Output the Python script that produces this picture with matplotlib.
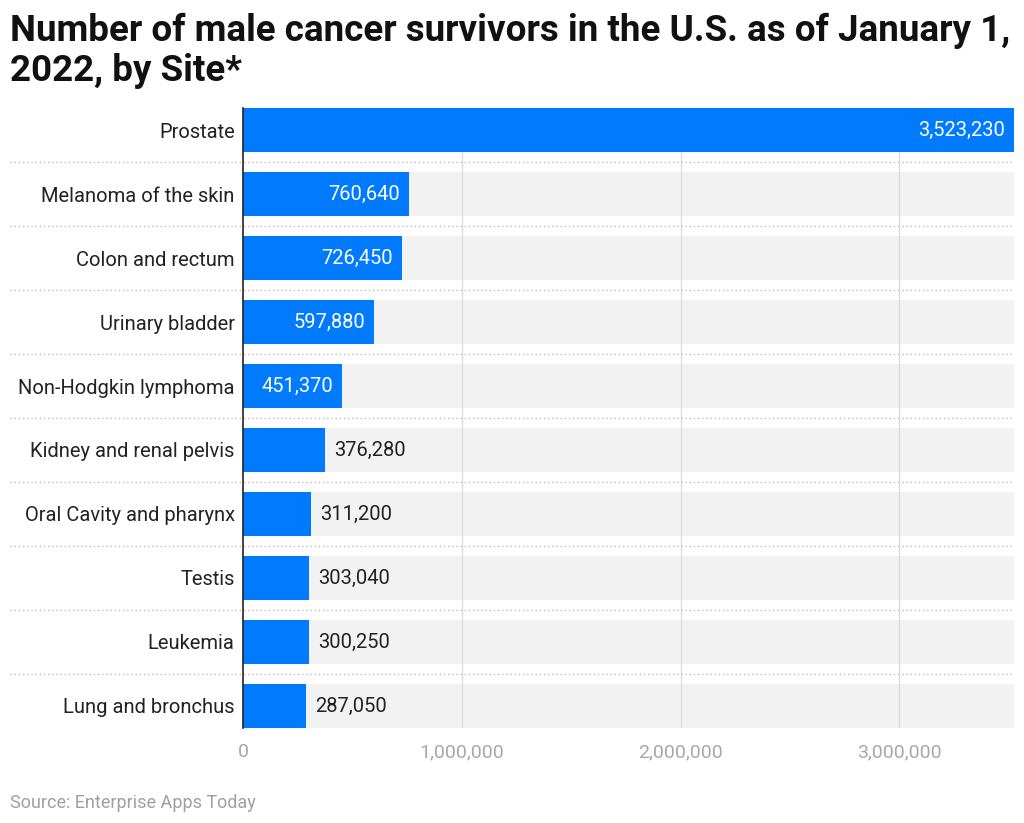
import matplotlib
matplotlib.use("Agg")
import matplotlib.pyplot as plt
import matplotlib.transforms as mtransforms
from matplotlib.ticker import FuncFormatter

plt.rcParams['font.family'] = ['Roboto', 'DejaVu Sans']

categories = ["Prostate", "Melanoma of the skin", "Colon and rectum", "Urinary bladder",
              "Non-Hodgkin lymphoma", "Kidney and renal pelvis", "Oral Cavity and pharynx",
              "Testis", "Leukemia", "Lung and bronchus"]
values = [3523230, 760640, 726450, 597880, 451370, 376280, 311200, 303040, 300250, 287050]
inside_count = 5
xticks = [0, 1000000, 2000000, 3000000]

BLUE = "#007BFF"
BAND = "#F2F2F2"

fig = plt.figure(figsize=(10.24, 8.23), dpi=100)
ax = fig.add_axes([243/1024, 1-728/823, (1014-243)/1024, (728-108)/823])

xmax = max(values)
n = len(categories)
ypos = list(range(n))
h = 0.69

ax.barh(ypos, [xmax]*n, height=h, color=BAND, zorder=0)
for x in xticks[1:]:
    ax.axvline(x, color="#DCDCDC", lw=1, zorder=1)
ax.barh(ypos, values, height=h, color=BLUE, zorder=2)

ax.set_xlim(0, xmax)
ax.set_ylim(n - 1 + 0.345, -0.345)

trans = mtransforms.blended_transform_factory(ax.transAxes, ax.transData)
for i in range(n - 1):
    ax.plot([-233/771, 1], [i + 0.5, i + 0.5], transform=trans, clip_on=False,
            color="#BBBBBB", lw=1, ls=(0, (1, 2)), zorder=3)

off = 9 / 219 * 1000000
for i, v in enumerate(values):
    label = f"{v:,}"
    if i < inside_count:
        ax.text(v - off, i, label, ha="right", va="center", color="white",
                fontsize=14.5, zorder=4)
    else:
        ax.text(v + off, i, label, ha="left", va="center", color="#222222",
                fontsize=14.5, zorder=4)

ax.set_yticks(ypos)
ax.set_yticklabels(categories, fontsize=14.5, color="#222222")
ax.tick_params(axis="y", length=0, pad=6)
ax.set_xticks(xticks)
ax.xaxis.set_major_formatter(FuncFormatter(lambda x, p: f"{int(x):,}"))
ax.tick_params(axis="x", length=0, pad=11, labelsize=14, labelcolor="#A8A8A8")

for s in ["top", "right", "bottom"]:
    ax.spines[s].set_visible(False)
ax.spines["left"].set_color("#222222")
ax.spines["left"].set_linewidth(1.2)
ax.spines["left"].set_zorder(5)

fig.text(10/1024, 1-13/823, "Number of male cancer survivors in the U.S. as of January 1,\n2022, by Site*",
         ha="left", va="top", fontsize=26.5, fontweight="bold", color="#111111", linespacing=1.15)
fig.text(10/1024, 1-803/823, "Source: Enterprise Apps Today", ha="left", va="center",
         fontsize=13, color="#A0A0A0")

fig.savefig("out.png", dpi=100)
